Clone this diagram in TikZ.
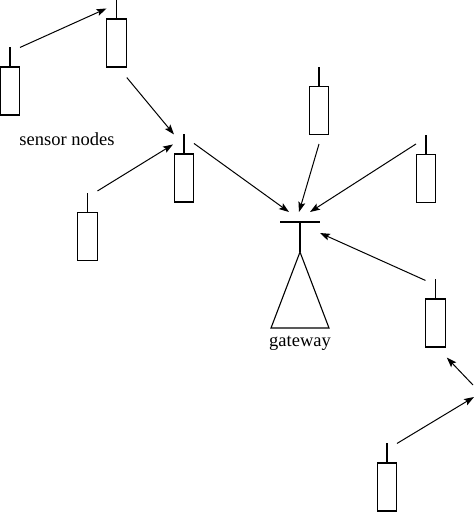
\documentclass[tikz,border=0pt]{standalone}
\usepackage{fontspec}
\setmainfont{Liberation Serif}
\usetikzlibrary{arrows.meta}
\begin{document}
\begin{tikzpicture}[x=1pt,y=-1pt,
  line width=1.1pt,
  sensor/.style={draw, rectangle, minimum width=19.5pt, minimum height=48pt, inner sep=0pt},
  arr/.style={-{Stealth[length=10pt,width=7pt,inset=2pt]}, line width=1pt},
  lbl/.style={font=\fontsize{18.5}{22}\selectfont, inner sep=0pt}]
\useasboundingbox (0,0) rectangle (474,512);
% sensors: rectangle + antenna
\foreach \n/\x/\y in {1/10/91, 2/116.5/43, 3/184/178, 4/87.5/236.5, 5/319/110.5, 6/426/178.5, 7/435.5/323, 9/387/487}{
  \node[sensor] (s\n) at (\x,\y) {};
  \coordinate (a\n) at ([yshift=19pt]s\n.north);
  \draw (s\n.north) -- (a\n);
}
% gateway
\coordinate (gw) at (300,222);
\coordinate (gwl) at (280,222);
\coordinate (gwr) at (319.5,222);
\coordinate (gwapex) at (300,252);
\draw (gwl) -- (gwr);
\draw (gw) -- (gwapex);
\draw (gwapex) -- (271,328) -- (329,328) -- cycle;
\node[lbl] (gwtext) at (300,343) {gateway};
\node[lbl] (sntext) at (67,139) {sensor nodes};
% free ends at the right edge
\coordinate (e8) at (473,385);
\coordinate (e9) at (474,397);
% connectors
\draw[arr] ([shift={(10,0)}]a1) -- ([shift={(-10,9)}]a2);
\draw[arr] ([shift={(0,10)}]s2.south east) -- ([shift={(-10,0)}]a3);
\draw[arr] ([shift={(10,-2)}]a4) -- ([shift={(-11,10)}]a3);
\draw[arr] ([shift={(10,9)}]a3) -- ([shift={(-11,-10)}]gw);
\draw[arr] ([shift={(0,9)}]s5.south) -- ([shift={(-1,-10)}]gw);
\draw[arr] ([shift={(-10,9)}]a6) -- ([shift={(10,-10)}]gw);
\draw[arr] ([shift={(-10,1)}]a7) -- ([shift={(20,11)}]gw);
\draw[arr] (e8) -- ([shift={(1,10)}]s7.south east);
\draw[arr] ([shift={(10,0)}]a9) -- (e9);
\end{tikzpicture}
\end{document}
